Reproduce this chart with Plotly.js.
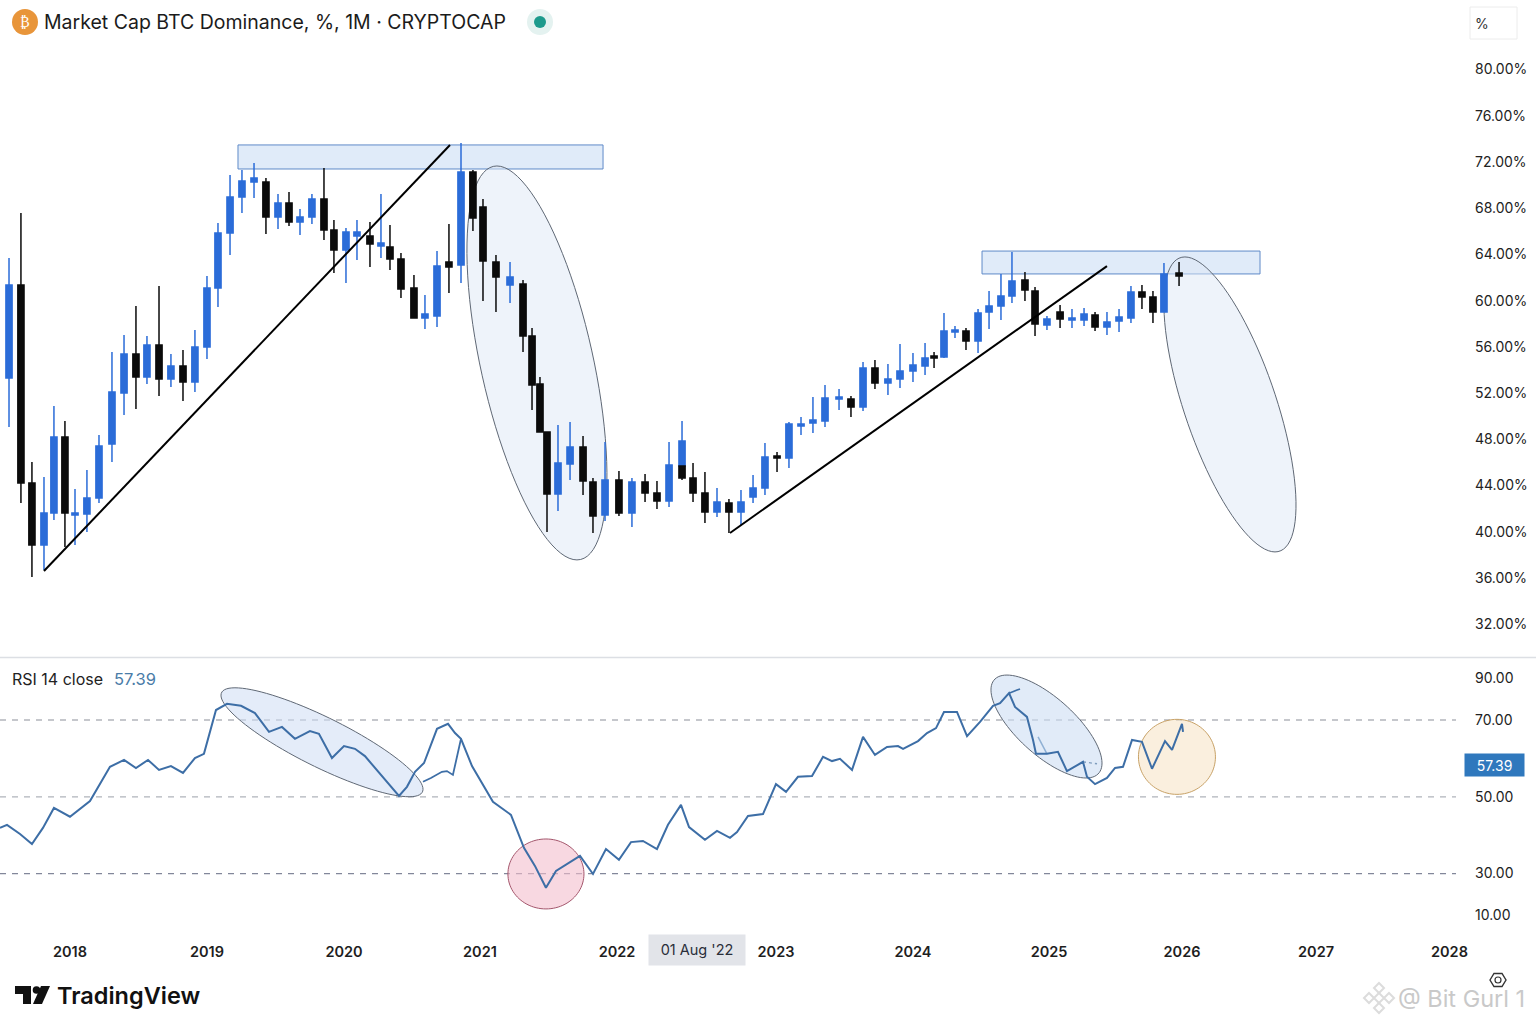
<!DOCTYPE html>
<html><head><meta charset="utf-8">
<script src="https://cdn.plot.ly/plotly-3.0.1.min.js"></script>
<style>html,body{margin:0;padding:0;background:#fff}#c{width:1536px;height:1024px}</style>
</head><body><div id="c"></div>
<script>
// Monthly bars (position in months after Jan 2018, as laid out on the chart's time scale)
const barX=[-5.21,-4.19,-3.25,-2.22,-1.37,-0.43,0.43,1.45,2.48,3.59,4.62,5.64,6.58,7.61,8.63,9.66,10.68,11.71,12.65,13.68,14.70,15.73,
16.75,17.78,18.72,19.66,20.68,21.71,22.56,23.59,24.53,25.64,26.58,27.35,28.29,29.40,30.34,31.37,32.39,33.42,34.44,
35.30,36.41,37.61,38.72,39.49,40.17,40.77,41.71,42.74,43.85,44.70,45.73,46.92,48.03,49.15,50.17,51.20,52.31,52.31,53.25,
54.27,55.30,56.32,57.35,58.38,59.40,60.43,61.45,62.48,63.50,64.53,65.73,66.75,67.78,68.80,69.91,70.94,72.05,73.08,73.85,
74.70,75.64,76.58,77.61,78.55,79.57,80.51,81.62,82.48,83.50,84.62,85.64,86.67,87.61,88.63,89.66,90.68,91.62,92.56,93.50,94.79];
const opens=[53.31,61.35,44.23,38.86,41.63,48.21,41.46,41.54,42.93,47.60,52.01,55.38,53.40,56.16,53.22,54.35,52.96,55.99,61.10,65.85,68.97,70.27,
70.27,67.24,68.45,66.80,67.24,68.79,66.11,64.38,65.59,65.59,64.73,64.64,63.60,61.10,58.50,58.67,63.34,63.09,71.13,
68.10,63.34,61.35,61.44,56.94,52.79,48.64,43.27,45.87,47.34,44.31,41.46,44.49,41.63,44.31,43.36,42.67,45.70,45.70,44.66,
43.36,41.72,42.50,41.72,43.01,43.79,46.56,46.39,49.16,49.42,49.59,51.49,51.49,50.80,54.17,52.88,53.22,53.91,54.35,55.21,
55.13,57.29,57.38,56.51,59.02,59.54,60.40,61.79,60.84,57.89,59.02,58.33,58.33,58.76,57.72,58.24,58.50,60.75,60.32,59.02,62.39];
const highs=[63.69,67.58,46.04,44.74,50.89,49.59,43.71,45.35,48.38,55.56,57.03,59.54,56.94,61.27,55.38,55.73,57.46,62.13,66.72,70.87,71.30,71.91,
70.61,69.23,69.40,67.93,69.23,71.48,66.98,66.29,66.98,66.80,69.23,66.55,64.12,62.22,60.49,64.30,66.63,73.64,71.30,
68.79,63.95,63.34,61.79,57.63,53.40,48.64,49.24,49.50,48.29,44.66,47.77,45.26,44.66,45.00,44.40,47.77,49.59,45.70,45.96,
45.18,43.79,42.84,43.62,44.92,47.69,46.91,49.50,49.94,51.67,52.70,52.36,51.75,54.69,54.87,54.52,56.25,55.47,56.34,55.56,
58.93,57.81,57.63,59.28,60.84,62.31,64.21,62.48,61.18,58.67,59.62,59.28,59.36,59.02,59.02,59.28,61.27,61.35,60.84,63.26,63.34];
const lows=[49.07,42.50,36.09,36.70,41.02,38.69,38.86,39.99,42.50,46.04,50.11,50.63,52.79,51.75,52.53,51.32,52.10,54.95,59.45,63.95,67.58,68.88,
65.77,66.20,66.46,65.68,66.63,65.25,62.39,61.53,63.52,62.91,63.69,62.65,60.23,58.50,57.55,57.72,60.66,61.53,66.03,
59.97,59.02,59.80,55.56,50.54,48.64,39.99,41.80,44.49,43.19,39.90,40.94,41.37,40.42,42.58,41.98,42.15,45.70,44.49,42.58,
40.77,41.28,39.90,40.59,42.50,43.19,45.18,45.52,48.38,48.55,49.07,50.54,49.94,50.45,52.36,51.84,52.44,52.96,53.57,54.17,
55.04,56.77,55.73,55.47,57.55,58.33,59.80,59.97,56.94,57.46,57.63,57.63,57.81,57.38,57.03,57.29,58.07,59.28,58.07,59.02,61.27];
const closes=[61.35,44.23,38.86,41.63,48.21,41.63,41.63,42.93,47.43,52.10,55.38,53.40,56.16,53.22,54.35,52.96,55.99,61.10,65.85,68.97,70.35,70.61,
67.24,68.45,66.80,67.24,68.79,66.11,64.38,65.94,65.94,64.90,64.99,63.60,61.01,58.50,58.85,63.00,62.91,71.13,67.15,
63.43,62.05,62.05,56.94,52.70,48.64,43.27,45.96,47.34,44.40,41.37,44.49,41.63,44.31,43.36,42.67,45.78,47.86,44.66,43.36,
41.72,42.58,41.72,42.58,43.79,46.47,46.39,49.33,49.33,49.68,51.58,51.67,50.80,54.17,52.88,53.22,53.91,54.43,55.04,55.04,
57.38,57.46,56.51,58.93,59.54,60.40,61.70,60.92,57.98,58.41,58.41,58.50,58.85,57.72,58.15,58.59,60.75,60.32,59.02,62.31,62.13];

// RSI series
const rsiX=[-5.98,-5.38,-4.27,-3.25,-2.31,-1.37,0,1.71,3.42,4.62,5.64,6.67,7.61,8.63,9.66,10.68,11.45,12.48,13.42,14.62,15.81,17.01,18.12,19.23,20.51,21.28,22.39,23.42,24.36,25.21,
28.12,28.80,29.49,30.26,31.37,32.31,32.91,33.42,34.36,36.15,37.69,38.80,39.74,40.68,41.54,43.59,44.70,45.81,46.92,47.95,48.97,50.17,51.11,52.22,52.91,54.27,55.30,56.41,57.01,57.95,59.23,60.34,61.20,62.22,63.42,64.36,65.13,65.81,
66.84,67.78,68.80,69.83,70.77,71.20,72.48,73.25,74.02,74.70,75.81,76.67,77.78,78.89,79.49,80.26,80.77,81.79,82.31,82.56,83.50,84.44,85.21,86.58,86.92,87.61,88.63,89.32,90.00,90.77,91.62,92.48,93.59,94.19,95.04,95.13];
const rsiY=[41.9,42.7,40.3,37.7,41.9,47.1,44.8,48.9,57.8,59.6,57.5,59.6,57.0,58.0,56.2,60.1,61.2,72.6,74.2,73.7,71.8,66.9,68.2,65.1,67.1,66.4,60.1,63.2,62.5,60.6,
50.2,52.6,56.5,58.8,67.7,69.0,66.6,65.1,58.0,48.7,45.3,36.7,32.0,26.3,30.7,34.6,29.9,36.4,33.6,38.2,38.5,36.4,42.7,47.9,42.1,38.8,41.1,39.3,40.8,45.0,45.5,53.3,51.3,55.2,55.4,60.4,59.3,59.9,
57.0,65.6,60.9,63.0,63.2,62.5,64.5,66.6,67.9,72.1,72.1,65.8,69.5,73.7,74.4,77.0,73.4,70.8,64.8,61.2,61.2,61.7,56.7,59.1,55.2,53.3,54.9,57.5,57.8,64.8,64.3,57.3,64.5,62.2,69.0,66.9];
// Secondary strokes visible on the RSI pane
const rsiBranchAX=[30.17,30.85,31.79,32.22,32.73,33.42], rsiBranchAY=[53.9,54.9,56.5,56.7,55.7,65.1];
const rsiBranchBX=[80.26,81.2], rsiBranchBY=[77.0,78.1];
const rsiBranchCX=[82.74,83.5], rsiBranchCY=[65.6,61.2];
const rsiBranchDX=[86.58,87.78], rsiBranchDY=[59.1,58.6];

const yearTickPos=[0,11.71,23.42,35.04,46.75,60.34,72.05,83.68,95.04,106.5,117.9];
const yearTickText=['2018','2019','2020','2021','2022','2023','2024','2025','2026','2027','2028'];
const priceTicks=[32,36,40,44,48,52,56,60,64,68,72,76,80];
const priceTickText=['32.00%','36.00%','40.00%','44.00%','48.00%','52.00%','56.00%','60.00%','64.00%','68.00%','72.00%','76.00%','80.00%'];
const rsiTickPos=[80.9,70,50,30,19.1];
const rsiTickText=['90.00','70.00','50.00','30.00','10.00'];

const BLUE='#2b6cd8', BLACK='#0b0b0b', RSI='#3d6ea6';
const FONT='Inter, Roboto, "Liberation Sans", sans-serif';
const W=1467,H=935;
const px=x=>x/W, py=y=>1-y/H;

const traces=[];
barX.forEach((x,i)=>{
  traces.push({type:'candlestick',x:[x],open:[opens[i]],high:[highs[i]],low:[lows[i]],close:[closes[i]],
    xaxis:'x',yaxis:'y',showlegend:false,hoverinfo:'skip',whiskerwidth:0,
    increasing:{line:{color:BLUE,width:1.5},fillcolor:BLUE},
    decreasing:{line:{color:BLACK,width:1.5},fillcolor:BLACK}});
});
const rsiLine=(x,y,color,width,dash)=>({type:'scatter',mode:'lines',x,y,xaxis:'x',yaxis:'y2',showlegend:false,hoverinfo:'skip',
   line:{color,width,dash:dash||'solid',shape:'linear'}});
traces.push(rsiLine(rsiBranchAX,rsiBranchAY,RSI,1.8));
traces.push(rsiLine(rsiBranchBX,rsiBranchBY,RSI,1.6));
traces.push(rsiLine(rsiBranchCX,rsiBranchCY,'#8fb0d4',1.5));
traces.push(rsiLine(rsiBranchDX,rsiBranchDY,'#7f9dbd',1.4,'3px,3px'));
traces.push(rsiLine(rsiX,rsiY,RSI,2));

function ellipse(cx,cy,bx,by,kx){ // conjugate vectors (bx,by) and (kx,0) in data units
  let d='';
  for(let i=0;i<96;i++){const t=i/96*2*Math.PI;
    const X=cx+bx*Math.sin(t)+kx*Math.cos(t), Y=cy+by*Math.sin(t);
    d+=(i?'L':'M')+X.toFixed(3)+','+Y.toFixed(3);}
  return d+'Z';
}
function poly(pts){return pts.map((p,i)=>(i?'L':'M')+px(p[0]).toFixed(5)+','+py(p[1]).toFixed(5)).join('')+'Z';}
const edgeGrey='#5f6875';
const shapes=[
 {type:'rect',xref:'x',yref:'y',x0:14.36,x1:45.56,y0:71.39,y1:73.47,fillcolor:'rgba(205,222,245,.62)',line:{color:'#5f8ac8',width:1},layer:'below'},
 {type:'rect',xref:'x',yref:'y',x0:77.95,x1:101.71,y0:62.31,y1:64.29,fillcolor:'rgba(205,222,245,.62)',line:{color:'#5f8ac8',width:1},layer:'below'},
 {type:'path',xref:'x',yref:'y',path:ellipse(39.91,54.61,3.42,-17.04,4.91),fillcolor:'rgba(222,231,245,.5)',line:{color:edgeGrey,width:1},layer:'below'},
 {type:'path',xref:'x',yref:'y',path:ellipse(99.14,51.02,3.85,-12.76,4.13),fillcolor:'rgba(222,231,245,.5)',line:{color:edgeGrey,width:1},layer:'below'},
 {type:'line',xref:'x',yref:'y',x0:-2.22,y0:36.61,x1:32.48,y1:73.47,line:{color:'#000',width:2},layer:'above'},
 {type:'line',xref:'x',yref:'y',x0:56.41,y0:39.90,x1:88.63,y1:62.99,line:{color:'#000',width:2},layer:'above'},
 {type:'line',xref:'paper',yref:'y2',x0:0,x1:px(1456),y0:70,y1:70,line:{color:'#8b909a',width:1.2,dash:'6px,6px'},layer:'below'},
 {type:'line',xref:'paper',yref:'y2',x0:0,x1:px(1456),y0:50,y1:50,line:{color:'#b0b4bb',width:1.2,dash:'6px,6px'},layer:'below'},
 {type:'line',xref:'paper',yref:'y2',x0:0,x1:px(1456),y0:30,y1:30,line:{color:'#82879a',width:1.2,dash:'6px,6px'},layer:'below'},
 {type:'path',xref:'x',yref:'y2',path:ellipse(21.54,64.2,7.44,-14.19,4.38),fillcolor:'rgba(205,221,244,.55)',line:{color:edgeGrey,width:1},layer:'below'},
 {type:'path',xref:'x',yref:'y2',path:ellipse(40.68,29.9,0,-9.11,3.25),fillcolor:'rgba(243,190,205,.6)',line:{color:'#a4566c',width:1},layer:'below'},
 {type:'path',xref:'x',yref:'y2',path:ellipse(83.46,68.3,3.38,-13.41,3.33),fillcolor:'rgba(205,221,244,.6)',line:{color:edgeGrey,width:1},layer:'below'},
 {type:'path',xref:'x',yref:'y2',path:ellipse(94.61,60.4,0,-9.77,3.29),fillcolor:'rgba(246,225,195,.55)',line:{color:'#c8a267',width:1},layer:'below'},
 {type:'line',xref:'paper',yref:'paper',x0:0,x1:1536/W,y0:py(657.5),y1:py(657.5),line:{color:'#dcdfe4',width:1.5},layer:'above'},
 {type:'circle',xref:'paper',yref:'paper',x0:px(12),x1:px(38),y0:py(35),y1:py(9),fillcolor:'#e8953a',line:{width:0},layer:'above'},
 {type:'circle',xref:'paper',yref:'paper',x0:px(527),x1:px(553),y0:py(35),y1:py(9),fillcolor:'#e4f2f0',line:{width:0},layer:'above'},
 {type:'circle',xref:'paper',yref:'paper',x0:px(534),x1:px(546),y0:py(28),y1:py(16),fillcolor:'#1d9a8c',line:{width:0},layer:'above'},
 {type:'rect',xref:'paper',yref:'paper',x0:px(1470),x1:px(1517),y0:py(39),y1:py(7),fillcolor:'#fff',line:{color:'#ececec',width:1},layer:'above'},
 {type:'path',xref:'paper',yref:'paper',path:poly([[15,986],[31,986],[31,1004],[23,1004],[23,994],[15,994]]),fillcolor:'#111',line:{width:0},layer:'above'},
 {type:'circle',xref:'paper',yref:'paper',x0:px(32.7),x1:px(40.3),y0:py(993.8),y1:py(986.2),fillcolor:'#111',line:{width:0},layer:'above'},
 {type:'path',xref:'paper',yref:'paper',path:poly([[41,986],[50,986],[42,1004],[33,1004]]),fillcolor:'#111',line:{width:0},layer:'above'},
 {type:'path',xref:'paper',yref:'paper',path:poly([[1490,980],[1494,973.5],[1502,973.5],[1506,980],[1502,986.5],[1494,986.5]]),fillcolor:'rgba(0,0,0,0)',line:{color:'#333',width:1.4},layer:'above'},
 {type:'circle',xref:'paper',yref:'paper',x0:px(1495),x1:px(1501),y0:py(983),y1:py(977),fillcolor:'rgba(0,0,0,0)',line:{color:'#333',width:1.2},layer:'above'},
 ...[[1379,988],[1369,998],[1389,998],[1379,1008],[1379,998]].map(c=>({type:'path',xref:'paper',yref:'paper',
   path:poly([[c[0],c[1]-5],[c[0]+5,c[1]],[c[0],c[1]+5],[c[0]-5,c[1]]]),fillcolor:'rgba(0,0,0,0)',line:{color:'#dcdcdc',width:2},layer:'above'}))
];

const txt=(x,y,text,size,color,extra)=>Object.assign({xref:'paper',yref:'paper',x:px(x),y:py(y),text,showarrow:false,xanchor:'left',yanchor:'middle',
  font:{family:FONT,size,color}},extra||{});
const annotations=[
 txt(42,22,'Market Cap BTC Dominance, %, 1M · CRYPTOCAP',19.5,'#1b1b1b'),
 txt(25,22,'₿',14,'#fff',{xanchor:'center',font:{family:'"DejaVu Sans"',size:14,color:'#fff'}}),
 txt(1473,23,'%',14,'#333'),
 txt(10,679,'RSI 14 close',16,'#222'),
 txt(112,679,'57.39',16.5,'#4a7ca8'),
 txt(1495,765,'57.39',14,'#fff',{xanchor:'center',bgcolor:'#2f78bd',width:59,height:22,borderpad:0,align:'center'}),
 txt(697,950,"01 Aug '22",14.5,'#2a2e39',{xanchor:'center',bgcolor:'#e2e4e9',width:94,height:28,align:'center'}),
 txt(55,995,'TradingView',23.5,'#111',{font:{family:FONT,size:23.5,color:'#111',weight:600}}),
 txt(1396,998,'@ Bit Gurl 1',23.5,'#c9c9c9')
];

const layout={width:1536,height:1024,autosize:false,margin:{l:0,r:69,t:0,b:89,pad:0},
 paper_bgcolor:'#fff',plot_bgcolor:'#fff',showlegend:false,hovermode:false,boxgap:0.12,boxgroupgap:0,
 font:{family:FONT,color:'#222'},
 xaxis:{type:'linear',range:[-5.98,119.4],domain:[0,1],anchor:'y2',rangeslider:{visible:false},showgrid:false,zeroline:false,showline:false,
   ticks:'',tickmode:'array',tickvals:yearTickPos,ticktext:yearTickText,ticklabelstandoff:6,tickfont:{family:FONT,size:14.5,color:'#1e1e1e',weight:600}},
 yaxis:{type:'linear',range:[29.17,86.01],domain:[(H-657)/H,1],side:'right',anchor:'x',showgrid:false,zeroline:false,showline:false,ticks:'',
   tickmode:'array',tickvals:priceTicks,ticktext:priceTickText,ticklabelstandoff:7,tickfont:{family:FONT,size:14,color:'#222'}},
 yaxis2:{type:'linear',range:[14.0,86.15],domain:[0,(H-658)/H],side:'right',anchor:'x',showgrid:false,zeroline:false,showline:false,ticks:'',
   tickmode:'array',tickvals:rsiTickPos,ticktext:rsiTickText,ticklabelstandoff:7,tickfont:{family:FONT,size:14,color:'#222'}},
 shapes,annotations};
Plotly.newPlot('c',traces,layout,{displayModeBar:false,staticPlot:true});
</script></body></html>
